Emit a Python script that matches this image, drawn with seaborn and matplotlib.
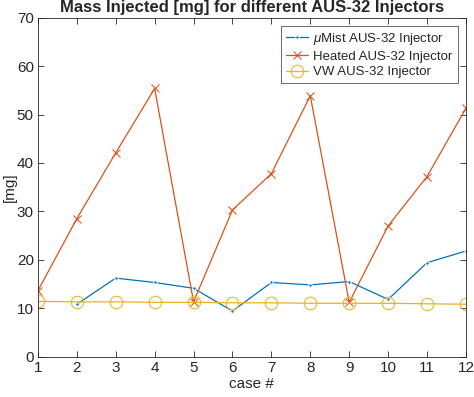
import numpy as np
import pandas as pd
import matplotlib
matplotlib.use("Agg")
import matplotlib.pyplot as plt
import seaborn as sns

cases = list(range(1, 13))
mist = [np.nan, 10.8, 16.2, 15.3, 14.1, 9.4, 15.3, 14.8, 15.5, 11.8, 19.4, 21.8]
heated = [13.6, 28.5, 42.1, 55.4, 11.3, 30.3, 37.8, 53.9, 11.2, 27.0, 37.2, 51.3]
vw = [11.4, 11.3, 11.3, 11.2, 11.2, 11.1, 11.1, 11.0, 11.0, 11.0, 10.9, 10.8]

sns.set_style("ticks")
plt.rcParams['font.family'] = ['Liberation Sans', 'DejaVu Sans']
plt.rcParams['mathtext.fontset'] = 'custom'
plt.rcParams['mathtext.it'] = 'Liberation Sans:italic'

fig = plt.figure(figsize=(4.74, 3.97), dpi=100)
ax = fig.add_axes([0.080, 0.102, 0.903, 0.853])

sns.lineplot(x=cases, y=mist, ax=ax, color='#0072BD', marker='.', markersize=5,
             linewidth=0.9, label=r'$\mu$Mist AUS-32 Injector')
sns.lineplot(x=cases, y=heated, ax=ax, color='#D95319', marker='x', markersize=6,
             markeredgecolor='#D95319', linewidth=0.9, label='Heated AUS-32 Injector')
sns.lineplot(x=cases, y=vw, ax=ax, color='#EDB120', marker='o', markersize=9,
             markerfacecolor='none', markeredgecolor='#EDB120', linewidth=0.9,
             label='VW AUS-32 Injector')

ax.set_xlim(1, 12)
ax.set_ylim(0, 70)
ax.set_xticks(cases)
ax.set_yticks(range(0, 71, 10))
ax.tick_params(direction='in', top=True, right=True, length=4, labelsize=11,
               colors='#262626', width=0.6, pad=3)
for s in ax.spines.values():
    s.set_visible(True)
    s.set_color('#262626')
    s.set_linewidth(0.6)

ax.set_title('Mass Injected [mg] for different AUS-32 Injectors', fontsize=12,
             fontweight='bold', pad=4)
ax.set_xlabel('case #', fontsize=11, color='#262626', labelpad=2)
ax.set_ylabel('[mg]', fontsize=11, color='#262626', labelpad=0)

leg = ax.legend(loc='upper right', fontsize=9.5, frameon=True, fancybox=False,
                edgecolor='#262626', borderaxespad=0.6, handlelength=1.7,
                handletextpad=0.4, labelspacing=0.25, borderpad=0.4)
leg.get_frame().set_linewidth(0.6)

fig.savefig('out.png', dpi=100)
